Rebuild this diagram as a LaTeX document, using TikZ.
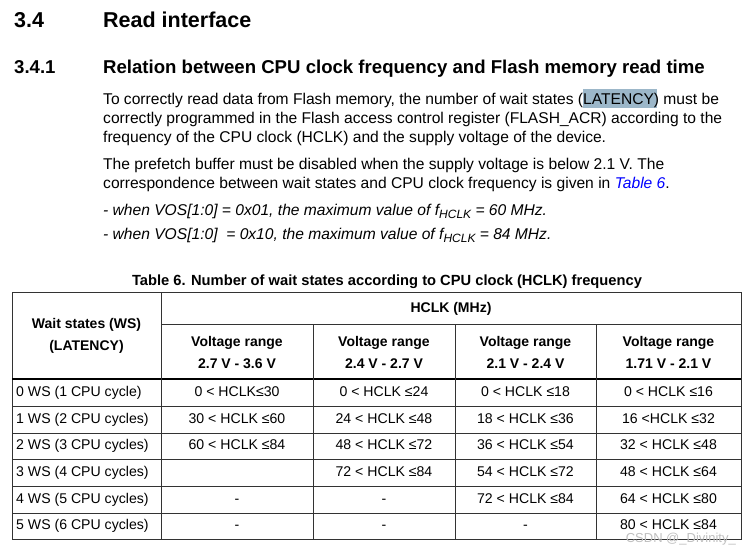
\documentclass[tikz,border=0pt]{standalone}
\usepackage{fontspec}
\setmainfont{Liberation Sans}
\newcommand{\mle}{≤}
\begin{document}
\begin{tikzpicture}[x=1pt,y=-1pt,
  body/.style={anchor=base west,inner sep=0,font=\fontsize{15.6}{18}\selectfont},
  cell/.style={inner sep=0,text height=10pt,text depth=3pt,font=\fontsize{14.1}{16}\selectfont},
  hcell/.style={inner sep=0,font=\bfseries\fontsize{14}{16}\selectfont,align=center},
  grid/.style={line width=0.7pt,black!80}]
\useasboundingbox (0,0) rectangle (749,552);
\node[anchor=base west,inner sep=0,font=\bfseries\fontsize{21.5}{24}\selectfont] (h1n) at (14,27) {3.4};
\node[anchor=base west,inner sep=0,font=\bfseries\fontsize{21.5}{24}\selectfont] (h1) at (103,27) {Read interface};
\node[anchor=base west,inner sep=0,font=\bfseries\fontsize{18.6}{20}\selectfont] (h2n) at (14,73) {3.4.1};
\node[anchor=base west,inner sep=0,font=\bfseries\fontsize{18.6}{20}\selectfont] (h2) at (103,73) {Relation between CPU clock frequency and Flash memory read time};
\fill[blue!40!cyan!30!gray!60] (583,89) rectangle (657,108);
\node[body] (p1) at (103,104) {To correctly read data from Flash memory, the number of wait states (LATENCY) must be};
\node[body] (p2) at (103,123) {correctly programmed in the Flash access control register (FLASH\_ACR) according to the};
\node[body] (p3) at (103,142) {frequency of the CPU clock (HCLK) and the supply voltage of the device.};
\node[body] (p4) at (103,169) {The prefetch buffer must be disabled when the supply voltage is below 2.1 V. The};
\node[body] (p5) at (103,188) {correspondence between wait states and CPU clock frequency is given in \textcolor{blue}{\itshape Table 6}.};
\node[body] (p6) at (103,215) {\itshape - when VOS[1:0] = 0x01, the maximum value of f\raisebox{-3pt}{\fontsize{12}{12}\selectfont HCLK} = 60 MHz.};
\node[body] (p7) at (103,239) {\itshape - when VOS[1:0] \ = 0x10, the maximum value of f\raisebox{-3pt}{\fontsize{12}{12}\selectfont HCLK} = 84 MHz.};
\node[anchor=base,inner sep=0,font=\bfseries\fontsize{14.7}{16}\selectfont] (cap) at (387,285) {Table 6. Number of wait states according to CPU clock (HCLK) frequency};
% grid
\draw[grid] (12,292) rectangle (741,539);
\draw[grid] (161,324) -- (741,324);
\draw[line width=2.2pt] (12,379) -- (741,379);
\foreach \y in {406,433,459,486,513} \draw[grid] (12,\y) -- (741,\y);
\draw[grid] (161,292) -- (161,539);
\foreach \x in {313,455,596} \draw[grid] (\x,324) -- (\x,539);
% header
\node[hcell] (ws) at (86.5,336) {Wait states (WS)\\[6pt](LATENCY)};
\node[hcell] (hclk) at (451,309) {HCLK (MHz)};
\node[hcell] (v1) at (237,352) {Voltage range\\[6pt]2.7 V - 3.6 V};
\node[hcell] (v2) at (384,352) {Voltage range\\[6pt]2.4 V - 2.7 V};
\node[hcell] (v3) at (525.5,352) {Voltage range\\[6pt]2.1 V - 2.4 V};
\node[hcell] (v4) at (668.5,352) {Voltage range\\[6pt]1.71 V - 2.1 V};
\foreach \r/\y/\a/\b/\c/\d/\e in {
 0/392.5/{0 WS (1 CPU cycle)}/{0 < HCLK\mle 30}/{0 < HCLK \mle 24}/{0 < HCLK \mle 18}/{0 < HCLK \mle 16},
 1/419.5/{1 WS (2 CPU cycles)}/{30 < HCLK \mle 60}/{24 < HCLK \mle 48}/{18 < HCLK \mle 36}/{16 <HCLK \mle 32},
 2/446/{2 WS (3 CPU cycles)}/{60 < HCLK \mle 84}/{48 < HCLK \mle 72}/{36 < HCLK \mle 54}/{32 < HCLK \mle 48},
 3/472.5/{3 WS (4 CPU cycles)}/{}/{72 < HCLK \mle 84}/{54 < HCLK \mle 72}/{48 < HCLK \mle 64},
 4/499.5/{4 WS (5 CPU cycles)}/{-}/{-}/{72 < HCLK \mle 84}/{64 < HCLK \mle 80},
 5/526/{5 WS (6 CPU cycles)}/{-}/{-}/{-}/{80 < HCLK \mle 84}} {
 \node[cell,anchor=west] (r\r a) at (16,\y) {\a};
 \node[cell] (r\r b) at (237,\y) {\b};
 \node[cell] (r\r c) at (384,\y) {\c};
 \node[cell] (r\r d) at (525.5,\y) {\d};
 \node[cell] (r\r e) at (668.5,\y) {\e};
}
\node[anchor=base east,inner sep=0,font=\fontsize{13}{15}\selectfont,text=gray!50] (wm) at (736,542) {CSDN @\_Divinity\_};
\end{tikzpicture}
\end{document}
